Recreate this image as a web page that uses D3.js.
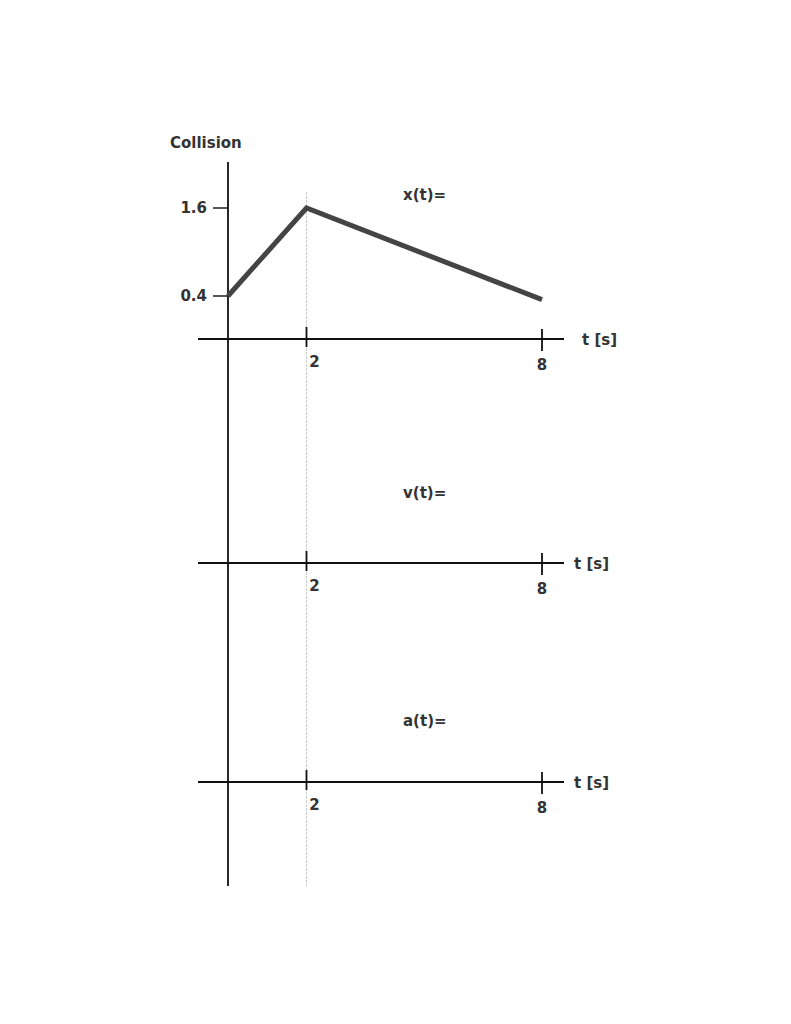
<!DOCTYPE html>
<html>
<head>
<meta charset="utf-8">
<script src="https://cdn.jsdelivr.net/npm/d3@7"></script>
<style>
  html, body { margin: 0; padding: 0; background: #fff; }
  text { font-family: "DejaVu Sans", Verdana, sans-serif; font-weight: bold; fill: #333; }
</style>
</head>
<body>
<script>
// position-time data of the collision (t in s, x in m)
var times = [0, 2, 8];
var positions = [0.4, 1.6, 0.35];
var yTicks = [0.4, 1.6];
var tTicks = [2, 8];
var panels = ["x(t)=", "v(t)=", "a(t)="];
var title = "Collision";
var tLabel = "t [s]";

var W = 791, H = 1024;

var svg = d3.select("body").append("svg")
    .attr("width", W)
    .attr("height", H);

// shared time scale for all three panels
var x = d3.scaleLinear().domain([0, 8]).range([228, 542]);

// position scale for the top panel
var y = d3.scaleLinear().domain([0.4, 1.6]).range([296, 208]);

// baseline of each panel (the t axis)
var axisY = [339, 563, 782];
var labelY = [200, 498, 726];

// faint guide at t = 2 running through all panels
svg.append("line")
    .attr("x1", x(2)).attr("x2", x(2))
    .attr("y1", 192).attr("y2", 886)
    .attr("stroke", "#ccc")
    .attr("stroke-width", 1)
    .attr("stroke-dasharray", "3,1");

// the common vertical axis
svg.append("line")
    .attr("x1", x(0)).attr("x2", x(0))
    .attr("y1", 162).attr("y2", 886)
    .attr("stroke", "#111")
    .attr("stroke-width", 1.8);

svg.append("text")
    .attr("x", 170).attr("y", 148)
    .style("font-size", "15px")
    .text(title);

// y ticks of the position panel
var yt = svg.append("g");
yt.selectAll("line").data(yTicks).enter().append("line")
    .attr("x1", x(0) - 15).attr("x2", x(0))
    .attr("y1", function(d) { return y(d); })
    .attr("y2", function(d) { return y(d); })
    .attr("stroke", "#111")
    .attr("stroke-width", 1.4);
yt.selectAll("text").data(yTicks).enter().append("text")
    .attr("x", 207)
    .attr("y", function(d) { return y(d) + 5; })
    .attr("text-anchor", "end")
    .style("font-size", "15px")
    .text(function(d) { return d.toFixed(1); });

// t axes
axisY.forEach(function(ay, i) {
    var g = svg.append("g");
    g.append("line")
        .attr("x1", 198).attr("x2", 564)
        .attr("y1", ay).attr("y2", ay)
        .attr("stroke", "#111")
        .attr("stroke-width", 1.8);

    g.selectAll("line.tick").data(tTicks).enter().append("line")
        .attr("class", "tick")
        .attr("x1", function(d) { return x(d); })
        .attr("x2", function(d) { return x(d); })
        .attr("y1", function(d) { return ay + (d == 2 ? -12 : -10); })
        .attr("y2", function(d) { return ay + (d == 2 ? 8 : 12); })
        .attr("stroke", "#111")
        .attr("stroke-width", 1.8);

    g.selectAll("text.tl").data(tTicks).enter().append("text")
        .attr("class", "tl")
        .attr("x", function(d) { return d == 2 ? x(d) + 8 : x(d); })
        .attr("y", function(d) { return ay + (d == 2 ? 28 : 31); })
        .attr("text-anchor", "middle")
        .style("font-size", "15px")
        .text(function(d) { return d; });

    g.append("text")
        .attr("x", i == 0 ? 582 : 574)
        .attr("y", ay + 6)
        .style("font-size", "15px")
        .text(tLabel);

    g.append("text")
        .attr("x", 403)
        .attr("y", labelY[i])
        .style("font-size", "15px")
        .text(panels[i]);
});

// x(t) graph
var pts = times.map(function(t, i) { return [t, positions[i]]; });
var line = d3.line()
    .x(function(d) { return x(d[0]); })
    .y(function(d) { return y(d[1]); });

svg.append("path")
    .datum(pts)
    .attr("d", line)
    .attr("fill", "none")
    .attr("stroke", "#444")
    .attr("stroke-width", 5)
    .attr("stroke-linejoin", "miter");
</script>
</body>
</html>
